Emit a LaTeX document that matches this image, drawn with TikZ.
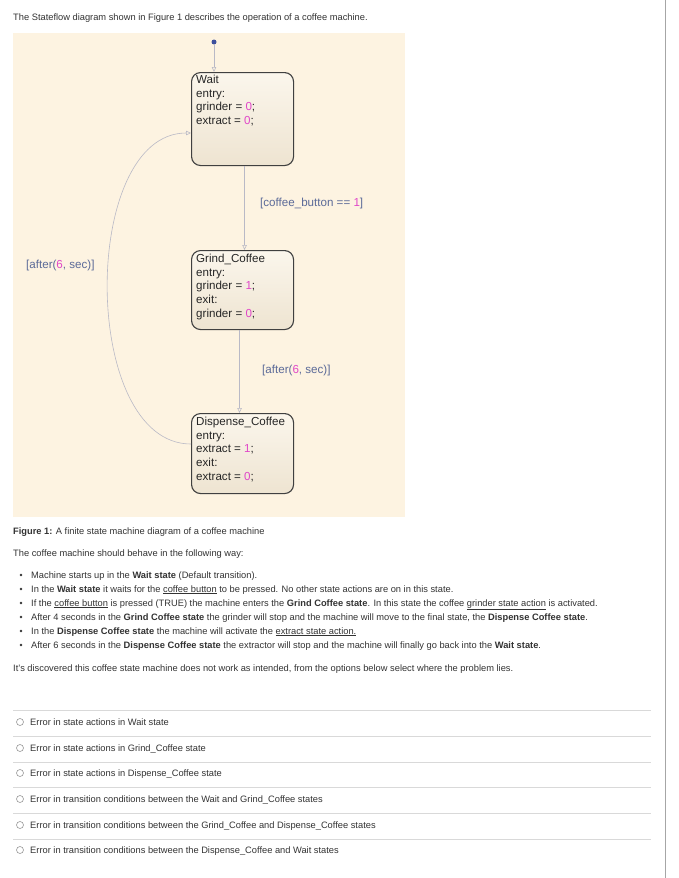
\documentclass[tikz,border=0pt]{standalone}
\usepackage{fontspec}
\setmainfont{Liberation Sans}
\usetikzlibrary{positioning,arrows.meta}

\definecolor{diagbg}{HTML}{FDF3E1}
\definecolor{statetop}{HTML}{FBF6EC}
\definecolor{statebot}{HTML}{EEE4D1}
\definecolor{transgray}{HTML}{B9B9C6}
\definecolor{condblue}{HTML}{5B6A98}
\definecolor{condnum}{HTML}{E046C8}
\definecolor{dotblue}{HTML}{3D4F9C}
\definecolor{rulegray}{HTML}{D9D9D9}
\definecolor{textgray}{HTML}{333333}

\newcommand{\magnum}[1]{\textcolor{condnum}{#1}}

\begin{document}
\begin{tikzpicture}[
    x=1pt,y=-1pt,
    state/.style={draw=black!75,line width=1.1pt,rounded corners=9pt,
        top color=statetop,bottom color=statebot,
        minimum width=102pt,anchor=north west,inner sep=0pt},
    statetxt/.style={anchor=north west,inner sep=0pt,align=left,
        font=\fontsize{11.6}{13.6}\selectfont,text=black!85},
    cond/.style={anchor=west,inner sep=0pt,
        font=\fontsize{11.6}{13.6}\selectfont,text=condblue},
    trans/.style={draw=transgray,line width=0.6pt,
        -{Triangle[open,length=5pt,width=4.5pt]}},
    txt/.style={anchor=base west,inner sep=0pt,
        font=\fontsize{9.3}{11}\selectfont,text=textgray},
    sep/.style={draw=rulegray,line width=0.8pt}
]

\useasboundingbox (0,0) rectangle (678,878);
\fill[white] (0,0) rectangle (678,878);

% intro
\node[txt] (intro) at (13,20) {The Stateflow diagram shown in Figure 1 describes the operation of a coffee machine.};

% chart background
\fill[diagbg] (13,33) rectangle (405,517);

% states
\node[state,minimum height=93pt] (wait)  at (191,72)  {};
\node[state,minimum height=79pt] (grind) at (191,250) {};
\node[state,minimum height=80pt] (disp)  at (191,413) {};

\node[statetxt] (waittxt)  at (196,75)  {Wait\\entry:\\grinder = \magnum{0};\\extract = \magnum{0};};
\node[statetxt] (grindtxt) at (196,254) {Grind\_Coffee\\entry:\\grinder = \magnum{1};\\exit:\\grinder = \magnum{0};};
\node[statetxt] (disptxt)  at (196,417) {Dispense\_Coffee\\entry:\\extract = \magnum{1};\\exit:\\extract = \magnum{0};};

% default transition
\node[circle,fill=dotblue,inner sep=0pt,minimum size=5pt] (init) at (214,42) {};
\draw[trans] (init) -- (init |- wait.north);

% transitions
\draw[trans] ([xshift=2pt]wait.south) -- ([xshift=2pt]grind.north);
\draw[trans] ([xshift=-3pt]grind.south) -- ([xshift=-3pt]disp.north);
\draw[trans] ([yshift=-31pt]disp.north west) .. controls (80,444) and (80,133) .. ([yshift=-61pt]wait.north west);

% conditions
\node[cond] (c1) at (260,203) {[coffee\_button == \magnum{1}]};
\node[cond] (c2) at (262,370) {[after(\magnum{6}, sec)]};
\node[cond] (c3) at (26,265)  {[after(\magnum{6}, sec)]};

% caption and description
\node[txt] (cap)  at (13,534) {\textbf{Figure 1:} A finite state machine diagram of a coffee machine};
\node[txt] (way)  at (13,556) {The coffee machine should behave in the following way:};
\node[txt] (b1) at (31,578) {Machine starts up in the \textbf{Wait state} (Default transition).};
\node[txt] (b2) at (31,592) {In the \textbf{Wait state} it waits for the \underline{coffee button} to be pressed. No other state actions are on in this state.};
\node[txt] (b3) at (31,606) {If the \underline{coffee button} is pressed (TRUE) the machine enters the \textbf{Grind Coffee state}. In this state the coffee \underline{grinder state action} is activated.};
\node[txt] (b4) at (31,620) {After 4 seconds in the \textbf{Grind Coffee state} the grinder will stop and the machine will move to the final state, the \textbf{Dispense Coffee state}.};
\node[txt] (b5) at (31,634) {In the \textbf{Dispense Coffee state} the machine will activate the \underline{extract state action.}};
\node[txt] (b6) at (31,648) {After 6 seconds in the \textbf{Dispense Coffee state} the extractor will stop and the machine will finally go back into the \textbf{Wait state}.};
\node[txt] (lies) at (13,671) {It's discovered this coffee state machine does not work as intended, from the options below select where the problem lies.};

\foreach \b in {b1,b2,b3,b4,b5,b6}
    \fill[textgray] ([xshift=-10pt,yshift=3pt]\b.base west) circle (1.3pt);

\draw[gray!70,line width=1pt] (665,0) -- (665,878);

% options
\draw[sep] (13,710) -- (651,710);
\draw[sep] (13,736) -- (651,736);
\draw[sep] (13,762) -- (651,762);
\draw[sep] (13,787) -- (651,787);
\draw[sep] (13,813) -- (651,813);
\draw[sep] (13,839) -- (651,839);

\node[txt] (o1) at (30,725) {Error in state actions in Wait state};
\node[txt] (o2) at (30,751) {Error in state actions in Grind\_Coffee state};
\node[txt] (o3) at (30,776) {Error in state actions in Dispense\_Coffee state};
\node[txt] (o4) at (30,802) {Error in transition conditions between the Wait and Grind\_Coffee states};
\node[txt] (o5) at (30,828) {Error in transition conditions between the Grind\_Coffee and Dispense\_Coffee states};
\node[txt] (o6) at (30,853) {Error in transition conditions between the Dispense\_Coffee and Wait states};

\foreach \o in {o1,o2,o3,o4,o5,o6}
    \draw[gray!80,line width=0.6pt] ([xshift=-10pt,yshift=3pt]\o.base west) circle (3.5pt);

\end{tikzpicture}
\end{document}
